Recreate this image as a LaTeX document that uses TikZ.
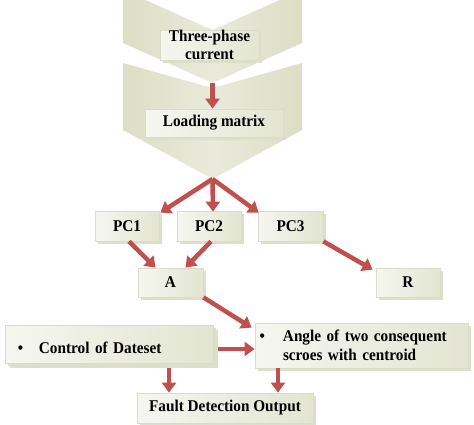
\documentclass[tikz,border=0pt]{standalone}
\usepackage{fontspec}
\setmainfont[FakeStretch=0.93]{Liberation Serif}
\usetikzlibrary{arrows.meta,shadows,calc}
\definecolor{chevd}{HTML}{DCDEC5}
\definecolor{chevl}{HTML}{E9EADB}
\definecolor{boxl}{HTML}{F5F6EF}
\definecolor{boxd}{HTML}{E3E5D2}
\definecolor{boxline}{HTML}{D9DCC7}
\definecolor{arrred}{HTML}{C0504D}
\definecolor{shad}{HTML}{DCDFCA}
\begin{document}
\begin{tikzpicture}[x=1pt,y=-1pt,
  chevron/.style={left color=chevd, right color=chevd, middle color=chevl, draw=none},
  box/.style={draw=boxline, line width=0.8pt, left color=boxl, right color=boxd, inner sep=0pt,
    font=\fontsize{16.4}{18}\selectfont\bfseries, align=center,
    drop shadow={shadow xshift=2.5pt, shadow yshift=-2.5pt, fill=shad, opacity=1}},
  arr/.style={draw=arrred, line width=4.5pt, -{Triangle[width=14pt,length=10pt]}}]
\useasboundingbox (0,0) rectangle (474,424);
\clip (0,0) rectangle (474,424);
% chevrons
\path[chevron] (123,-10) -- (212.5,30) -- (302,-10) -- (302,43) -- (212.5,83) -- (123,43) -- cycle;
\path[chevron] (123,63) -- (212.5,88) -- (302,63) -- (302,130) -- (212.5,179) -- (123,130) -- cycle;
\coordinate (c1tip) at (212.5,83);
\coordinate (c2tip) at (212.5,179);
% boxes
\node[box, minimum width=99, minimum height=30] (tp) at (209.5,45) {Three-phase\\current};
\node[box, minimum width=138, minimum height=28] (lm) at (214,123) {Loading matrix};
\node[box, minimum width=64, minimum height=30] (pc1) at (127,226) {PC1};
\node[box, minimum width=64, minimum height=30] (pc2) at (209,226) {PC2};
\node[box, minimum width=65, minimum height=30] (pc3) at (290.5,226) {PC3};
\node[box, minimum width=65, minimum height=29] (A) at (170.5,282.5) {A};
\node[box, minimum width=64, minimum height=29] (R) at (408,282.5) {R};
\node[box, minimum width=208, minimum height=38, text width=200pt, align=left,
  drop shadow={shadow xshift=5pt, shadow yshift=-5pt, fill=shad, opacity=1}] (ctrl) at (109,344)
  {\rule{0pt}{20pt}\makebox[30pt][l]{\hspace*{9pt}•}Control of Dateset};
\node[box, minimum width=213, minimum height=45, text width=204pt, align=left,
  font=\fontsize{16.4}{19}\selectfont\bfseries] (angle) at (361.5,345.5)
  {\makebox[23.5pt][l]{•}\makebox[176pt][s]{Angle of two consequent}\\\hspace*{23.5pt}scroes with centroid};
\node[box, minimum width=176, minimum height=30] (fault) at (225,408) {Fault Detection Output};
% arrows
\draw[arr] (c1tip) -- (c1tip |- lm.north);
\draw[arr] (c2tip) -- ([xshift=1pt,yshift=-2pt]pc1.north east);
\draw[arr] (c2tip) -- ([xshift=4pt,yshift=-1pt]pc2.north);
\draw[arr] (c2tip) -- ([xshift=1pt,yshift=-2pt]pc3.north west);
\draw[arr] ([xshift=2pt]pc1.south) -- ([xshift=-15pt]A.north);
\draw[arr] ([xshift=2pt]pc2.south) -- ([xshift=15pt]A.north);
\draw[arr] (pc3.south east) -- ([xshift=-3pt,yshift=-2pt]R.north west);
\draw[arr] (A.south east) -- ([xshift=-3pt,yshift=-5pt]angle.north west);
\draw[arr] ([xshift=5pt,yshift=-5pt]ctrl.east) -- ([yshift=-3.5pt]angle.west);
\path (ctrl.south) ++(60,0) coordinate (cs);
\path (angle.south) ++(-83.5,0) coordinate (as);
\draw[arr] ([yshift=-5pt]cs) -- (cs |- fault.north);
\draw[arr] (as) -- (as |- fault.north);
\end{tikzpicture}
\end{document}
